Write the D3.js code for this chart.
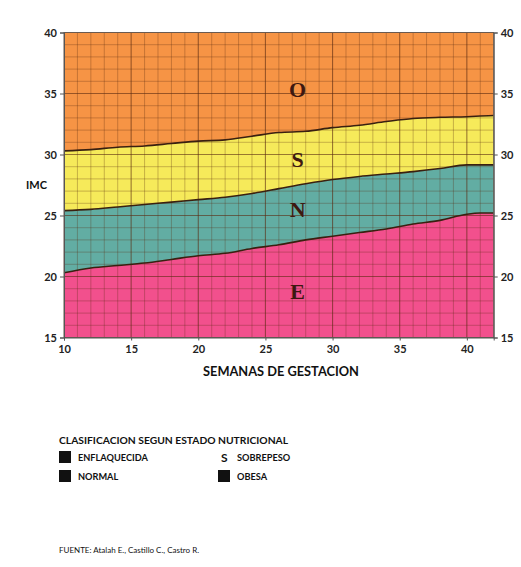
<!DOCTYPE html>
<html>
<head>
<meta charset="utf-8">
<script src="https://cdn.jsdelivr.net/npm/d3@7"></script>
<style>
  body { margin: 0; background: #fff; }
  text { font-family: Lato, "Open Sans", sans-serif; }
</style>
</head>
<body>
<div id="chart"></div>
<script>
var weeks = [10, 12, 14, 16, 18, 20, 22, 24, 26, 28, 30, 32, 34, 36, 38, 40, 41, 42];
// E / N boundary
var lowerLimit = [20.3, 20.7, 20.9, 21.1, 21.4, 21.7, 21.9, 22.3, 22.6, 23.0, 23.3, 23.6, 23.9, 24.3, 24.6, 25.1, 25.2, 25.2];
// N / S boundary
var middleLimit = [25.4, 25.5, 25.7, 25.9, 26.1, 26.3, 26.5, 26.8, 27.2, 27.6, 27.95, 28.2, 28.4, 28.6, 28.85, 29.15, 29.15, 29.15];
// S / O boundary
var upperLimit = [30.3, 30.4, 30.6, 30.7, 30.9, 31.1, 31.2, 31.5, 31.8, 31.9, 32.2, 32.4, 32.7, 32.95, 33.05, 33.1, 33.15, 33.2];

var xTicks = [10, 15, 20, 25, 30, 35, 40];
var yTicks = [15, 20, 25, 30, 35, 40];
var zoneLetters = ["E", "N", "S", "O"];
var legendLeft = ["ENFLAQUECIDA", "NORMAL"];
var legendRight = ["SOBREPESO", "OBESA"];

var width = 521, height = 567;
// plot box (window.top is read-only, so no "top" here)
var pLeft = 64, pRight = 493.7, pTop = 32.5, pBottom = 337.5;

var svg = d3.select("#chart").append("svg")
  .attr("width", width)
  .attr("height", height);

var x = d3.scaleLinear().domain([10, 42]).range([pLeft, pRight]);
var y = d3.scaleLinear().domain([15, 40]).range([pBottom, pTop]);

var rows = weeks.map(function(w, i) {
  return { w: w, lo: lowerLimit[i], mid: middleLimit[i], up: upperLimit[i] };
});

// the four coloured zones, bottom to top
var zones = [
  { fill: "#f2508d", y0: function(d) { return 15; }, y1: function(d) { return d.lo; } },
  { fill: "#62ada3", y0: function(d) { return d.lo; }, y1: function(d) { return d.mid; } },
  { fill: "#f6ea5a", y0: function(d) { return d.mid; }, y1: function(d) { return d.up; } },
  { fill: "#f69445", y0: function(d) { return d.up; }, y1: function(d) { return 40; } }
];

zones.forEach(function(z) {
  var area = d3.area()
    .x(function(d) { return x(d.w); })
    .y0(function(d) { return y(z.y0(d)); })
    .y1(function(d) { return y(z.y1(d)); })
    .curve(d3.curveMonotoneX);
  svg.append("path").datum(rows).attr("d", area).attr("fill", z.fill);
});

// grid: one line per week and per unit, darker every 5
var grid = svg.append("g");
d3.range(11, 42).forEach(function(w) {
  grid.append("line")
    .attr("x1", x(w)).attr("x2", x(w))
    .attr("y1", pTop).attr("y2", pBottom)
    .attr("stroke", "#5a2a10")
    .attr("stroke-opacity", w % 5 === 0 ? 0.6 : 0.38)
    .attr("stroke-width", w % 5 === 0 ? 1.1 : 0.8);
});
d3.range(16, 40).forEach(function(v) {
  grid.append("line")
    .attr("x1", pLeft).attr("x2", pRight)
    .attr("y1", y(v)).attr("y2", y(v))
    .attr("stroke", "#5a2a10")
    .attr("stroke-opacity", v % 5 === 0 ? 0.6 : 0.38)
    .attr("stroke-width", v % 5 === 0 ? 1.1 : 0.8);
});

// boundary lines
[lowerLimit, middleLimit, upperLimit].forEach(function(arr) {
  var line = d3.line()
    .x(function(d, i) { return x(weeks[i]); })
    .y(function(d) { return y(d); })
    .curve(d3.curveMonotoneX);
  svg.append("path").datum(arr).attr("d", line)
    .attr("fill", "none").attr("stroke", "#3a2010").attr("stroke-width", 1.6);
});

// frame
svg.append("rect")
  .attr("x", pLeft).attr("y", pTop)
  .attr("width", pRight - pLeft).attr("height", pBottom - pTop)
  .attr("fill", "none").attr("stroke", "#6a5a50").attr("stroke-width", 1);

// axes
function styleAxis(g) {
  g.select(".domain").attr("stroke", "#555");
  g.selectAll(".tick line").attr("stroke", "#555");
  g.selectAll(".tick text")
    .attr("fill", "#222")
    .style("font-family", "Lato, sans-serif")
    .style("font-weight", "bold")
    .style("font-size", "11px");
}

svg.append("g")
  .attr("transform", "translate(" + pLeft + ",0)")
  .call(d3.axisLeft(y).tickValues(yTicks).tickSize(4).tickPadding(3))
  .call(styleAxis);

svg.append("g")
  .attr("transform", "translate(" + pRight + ",0)")
  .call(d3.axisRight(y).tickValues(yTicks).tickSize(4).tickPadding(3))
  .call(styleAxis);

svg.append("g")
  .attr("transform", "translate(0," + pBottom + ")")
  .call(d3.axisBottom(x).tickValues(xTicks).tickSize(3).tickPadding(5))
  .call(styleAxis);

// axis titles
svg.append("text")
  .attr("x", 26).attr("y", 189)
  .attr("font-size", 11).attr("font-weight", "bold").attr("fill", "#111")
  .text("IMC");

svg.append("text")
  .attr("x", 281).attr("y", 376)
  .attr("text-anchor", "middle")
  .attr("font-size", 12.8).attr("font-weight", "bold").attr("fill", "#111")
  .text("SEMANAS DE GESTACION");

// zone letters
var letterY = [18.15, 24.9, 29.0, 34.7];
zoneLetters.forEach(function(l, i) {
  svg.append("text")
    .attr("x", x(27.4)).attr("y", y(letterY[i]))
    .attr("text-anchor", "middle")
    .style("font-family", "'Liberation Serif', serif")
    .attr("font-size", 22).attr("font-weight", "bold")
    .attr("fill", "#3e1810")
    .text(l);
});

// legend
var lg = svg.append("g");
lg.append("text")
  .attr("x", 59).attr("y", 443.5)
  .attr("font-size", 10.3).attr("font-weight", "bold").attr("fill", "#111")
  .text("CLASIFICACION SEGUN ESTADO NUTRICIONAL");

legendLeft.forEach(function(t, i) {
  lg.append("rect")
    .attr("x", 59).attr("y", 451 + i * 19)
    .attr("width", 12).attr("height", 12).attr("fill", "#111");
  lg.append("text")
    .attr("x", 78).attr("y", 461 + i * 19)
    .attr("font-size", 9.2).attr("font-weight", "bold").attr("fill", "#111")
    .text(t);
});

lg.append("text")
  .attr("x", 221).attr("y", 462)
  .attr("font-size", 12).attr("font-weight", "bold").attr("fill", "#111")
  .text("S");
lg.append("rect")
  .attr("x", 218).attr("y", 470)
  .attr("width", 12).attr("height", 12).attr("fill", "#111");
legendRight.forEach(function(t, i) {
  lg.append("text")
    .attr("x", 237).attr("y", 461 + i * 19)
    .attr("font-size", 9.2).attr("font-weight", "bold").attr("fill", "#111")
    .text(t);
});

svg.append("text")
  .attr("x", 59).attr("y", 553)
  .attr("font-size", 8).attr("fill", "#111")
  .text("FUENTE: Atalah E., Castillo C., Castro R.");
</script>
</body>
</html>
